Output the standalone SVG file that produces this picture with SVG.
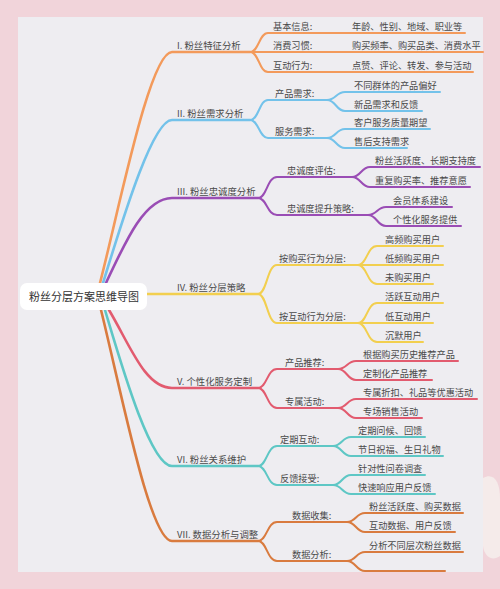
<svg xmlns="http://www.w3.org/2000/svg" width="500" height="589" viewBox="0 0 500 589">
<style>
text{font-family:"Noto Sans CJK SC","Noto Sans",sans-serif;fill:#4a4a4a;font-size:9.2px}
.t{font-size:11px;fill:#333}
.m{font-size:9.4px}
path{fill:none;stroke-linecap:round;stroke-linejoin:round;stroke-width:2}
.mn{stroke-width:2.6}
.c1{stroke:#f39a5b}.c2{stroke:#73c2ea}.c3{stroke:#9a4db5}.c4{stroke:#f2cf4f}.c5{stroke:#e25b6f}.c6{stroke:#5ec7c5}.c7{stroke:#d97b3f}
</style>
<rect x="0" y="0" width="500" height="589" fill="#f1d4da"/>
<rect x="18" y="17" width="465" height="555" fill="#eeedf1"/>
<path d="M483,478 C494,472 500,482 500,498 L500,556 C492,562 484,556 483,546 Z" style="fill:#f6efec;stroke:none;opacity:0.85"/>
<g id="connectors">
<path class="c1 mn" d="M100,283 C120,205 150,52 172,52 L250,52"/>
<path class="c2 mn" d="M103,283 C121,225 152,120 172,120 L250,120"/>
<path class="c3 mn" d="M106,283 C126,240 145,198 172,198 L258,198"/>
<path class="c4 mn" d="M147,294 L258,294"/>
<path class="c5 mn" d="M109,310 C130,345 145,388 172,388 L258,388"/>
<path class="c6 mn" d="M105,310 C120,360 150,466 172,466 L258,466"/>
<path class="c7 mn" d="M101,310 C122,395 150,541 172,541 L258,541"/>
<path class="c1" d="M250,52 C259,52 259,33 268,33 L465,33"/>
<path class="c1" d="M250,52 L483,52"/>
<path class="c1" d="M250,52 C259,52 259,72 268,72 L473,72"/>
<path class="c2" d="M250,120 C259,120 259,100 268,100 L327,100"/>
<path class="c2" d="M250,120 C259,120 259,138 268,138 L327,138"/>
<path class="c2" d="M327,100 C336,100 336,92 345,92 L440,92"/>
<path class="c2" d="M327,100 C336,100 336,111 345,111 L422,111"/>
<path class="c2" d="M327,138 C336,138 336,129 345,129 L430,129"/>
<path class="c2" d="M327,138 C336,138 336,148 345,148 L407,148"/>
<path class="c3" d="M258,198 C267,198 267,177 277,177 L352,177"/>
<path class="c3" d="M258,198 C267,198 267,215 277,215 L368,215"/>
<path class="c3" d="M352,177 C361,177 361,167 370,167 L480,167"/>
<path class="c3" d="M352,177 C361,177 361,187 370,187 L470,187"/>
<path class="c3" d="M368,215 C377,215 377,207 386,207 L452,207"/>
<path class="c3" d="M368,215 C377,215 377,226 386,226 L461,226"/>
<path class="c4" d="M258,294 C267,294 267,265 277,265 L358,265"/>
<path class="c4" d="M258,294 C267,294 267,323 277,323 L358,323"/>
<path class="c4" d="M358,265 C367,265 367,246 377,246 L443,246"/>
<path class="c4" d="M358,265 L443,265"/>
<path class="c4" d="M358,265 C367,265 367,284 377,284 L433,284"/>
<path class="c4" d="M358,323 C367,323 367,303 377,303 L443,303"/>
<path class="c4" d="M358,323 L433,323"/>
<path class="c4" d="M358,323 C367,323 367,342 377,342 L423,342"/>
<path class="c5" d="M258,388 C267,388 267,369 277,369 L338,369"/>
<path class="c5" d="M258,388 C267,388 267,408 277,408 L338,408"/>
<path class="c5" d="M338,369 C347,369 347,361 356,361 L458,361"/>
<path class="c5" d="M338,369 C347,369 347,380 356,380 L432,380"/>
<path class="c5" d="M338,408 C347,408 347,399 356,399 L477,399"/>
<path class="c5" d="M338,408 C347,408 347,418 356,418 L422,418"/>
<path class="c6" d="M258,466 C267,466 267,446 277,446 L333,446"/>
<path class="c6" d="M258,466 C267,466 267,485 277,485 L333,485"/>
<path class="c6" d="M333,446 C342,446 342,437 351,437 L425,437"/>
<path class="c6" d="M333,446 C342,446 342,456 351,456 L443,456"/>
<path class="c6" d="M333,485 C342,485 342,475 351,475 L425,475"/>
<path class="c6" d="M333,485 C342,485 342,494 351,494 L435,494"/>
<path class="c7" d="M258,541 C267,541 267,522 277,522 L347,522"/>
<path class="c7" d="M258,541 C267,541 267,561 277,561 L347,561"/>
<path class="c7" d="M347,522 C356,522 356,513 365,513 L463,513"/>
<path class="c7" d="M347,522 C356,522 356,532 365,532 L455,532"/>
<path class="c7" d="M347,561 C356,561 356,552 365,552 L463,552"/>
<path class="c7" d="M347,561 C356,561 356,571 365,571 L445,571"/>
</g>
<g id="root"><rect x="20" y="283" width="127" height="27" rx="7" fill="#ffffff"/><text class="t" x="29" y="301">粉丝分层方案思维导图</text></g>
<g id="b1"><text class="m" x="177" y="49">I. 粉丝特征分析</text>
<text x="273" y="30">基本信息:</text><text x="352" y="30">年龄、性别、地域、职业等</text>
<text x="273" y="49">消费习惯:</text><text x="352" y="49">购买频率、购买品类、消费水平</text>
<text x="273" y="69">互动行为:</text><text x="352" y="69">点赞、评论、转发、参与活动</text></g>
<g id="b2"><text class="m" x="177" y="117">II. 粉丝需求分析</text>
<text x="275" y="97">产品需求:</text><text x="354" y="89">不同群体的产品偏好</text><text x="354" y="108">新品需求和反馈</text>
<text x="275" y="135">服务需求:</text><text x="354" y="126">客户服务质量期望</text><text x="354" y="145">售后支持需求</text></g>
<g id="b3"><text class="m" x="177" y="195">III. 粉丝忠诚度分析</text>
<text x="287" y="174">忠诚度评估:</text><text x="375" y="164">粉丝活跃度、长期支持度</text><text x="375" y="184">重复购买率、推荐意愿</text>
<text x="287" y="212">忠诚度提升策略:</text><text x="393" y="204">会员体系建设</text><text x="393" y="223">个性化服务提供</text></g>
<g id="b4"><text class="m" x="177" y="291">IV. 粉丝分层策略</text>
<text x="279" y="262">按购买行为分层:</text><text x="385" y="243">高频购买用户</text><text x="385" y="262">低频购买用户</text><text x="385" y="281">未购买用户</text>
<text x="279" y="320">按互动行为分层:</text><text x="385" y="300">活跃互动用户</text><text x="385" y="320">低互动用户</text><text x="385" y="339">沉默用户</text></g>
<g id="b5"><text class="m" x="177" y="385">V. 个性化服务定制</text>
<text x="285" y="366">产品推荐:</text><text x="363" y="358">根据购买历史推荐产品</text><text x="363" y="377">定制化产品推荐</text>
<text x="285" y="405">专属活动:</text><text x="363" y="396">专属折扣、礼品等优惠活动</text><text x="363" y="415">专场销售活动</text></g>
<g id="b6"><text class="m" x="177" y="463">VI. 粉丝关系维护</text>
<text x="280" y="443">定期互动:</text><text x="358" y="434">定期问候、回馈</text><text x="358" y="453">节日祝福、生日礼物</text>
<text x="280" y="482">反馈接受:</text><text x="358" y="472">针对性问卷调查</text><text x="358" y="491">快速响应用户反馈</text></g>
<g id="b7"><text class="m" x="177" y="538">VII. 数据分析与调整</text>
<text x="292" y="519">数据收集:</text><text x="369" y="510">粉丝活跃度、购买数据</text><text x="369" y="529">互动数据、用户反馈</text>
<text x="292" y="558">数据分析:</text><text x="369" y="549">分析不同层次粉丝数据</text></g>
</svg>
